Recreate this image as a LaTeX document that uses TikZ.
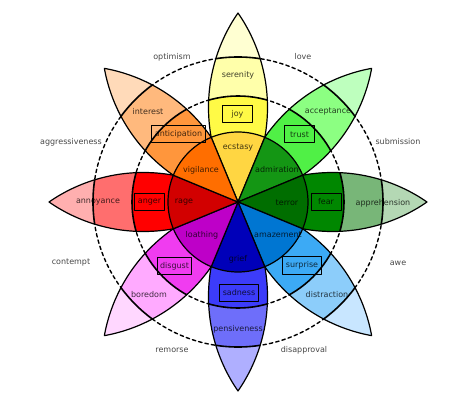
\documentclass[tikz,border=0pt]{standalone}
\usepackage{fontspec}
\setmainfont{DejaVu Sans}

% four shades per petal: A = inner sector, B = basic, C = mild, D = tip
\definecolor{joyA}{RGB}{255,214,66}   \definecolor{joyB}{RGB}{255,250,70}
\definecolor{joyC}{RGB}{255,255,170}  \definecolor{joyD}{RGB}{255,255,210}
\definecolor{trustA}{RGB}{20,150,20}  \definecolor{trustB}{RGB}{80,240,70}
\definecolor{trustC}{RGB}{140,255,130} \definecolor{trustD}{RGB}{190,255,190}
\definecolor{fearA}{RGB}{0,110,0}     \definecolor{fearB}{RGB}{0,135,0}
\definecolor{fearC}{RGB}{120,182,120} \definecolor{fearD}{RGB}{180,216,180}
\definecolor{surpA}{RGB}{0,118,210}   \definecolor{surpB}{RGB}{60,170,245}
\definecolor{surpC}{RGB}{140,205,250} \definecolor{surpD}{RGB}{200,230,255}
\definecolor{sadA}{RGB}{0,0,185}      \definecolor{sadB}{RGB}{60,60,250}
\definecolor{sadC}{RGB}{110,110,250}  \definecolor{sadD}{RGB}{175,175,255}
\definecolor{disgA}{RGB}{190,0,200}   \definecolor{disgB}{RGB}{240,60,240}
\definecolor{disgC}{RGB}{255,170,255} \definecolor{disgD}{RGB}{255,215,255}
\definecolor{angA}{RGB}{210,0,0}      \definecolor{angB}{RGB}{255,0,0}
\definecolor{angC}{RGB}{255,110,110}  \definecolor{angD}{RGB}{255,175,175}
\definecolor{antA}{RGB}{255,110,0}    \definecolor{antB}{RGB}{255,150,60}
\definecolor{antC}{RGB}{255,185,125}  \definecolor{antD}{RGB}{255,218,185}

\tikzset{
  petal/.style={draw=black, line width=1.2pt},
  ring/.style={black, line width=1.4pt, dash pattern=on 3.5pt off 3pt},
  feel/.style={text=black, text opacity=0.75},
  basic/.style={feel, draw=black, line width=1pt, inner xsep=3pt, minimum width=30pt, minimum height=17pt},
  dyad/.style={text=black!72}
}

\begin{document}
\begin{tikzpicture}[x=1pt, y=1pt, font=\fontsize{8}{9.6}\selectfont, line join=round, line cap=round]
  \useasboundingbox (-238,-213) rectangle (236,202);
  \draw[ring] (0,0) circle[radius=106] (0,0) circle[radius=145];
  % petals
  \foreach \ang/\nm in {90/joy, 45/trust, 0/fear, -45/surp, -90/sad, -135/disg, 180/ang, 135/ant}{
    \begin{scope}[rotate=\ang]
      \clip (0,0) arc[start angle=124.68, end angle=55.32, radius=166.1]
        arc[start angle=-55.32, end angle=-124.68, radius=166.1] -- cycle;
      \fill[\nm D] (0,0) circle[radius=200];
      \fill[\nm C] (0,0) circle[radius=145];
      \fill[\nm B] (0,0) circle[radius=106];
      \draw[petal, line width=1.6pt] (0,0) circle[radius=145] (0,0) circle[radius=106];
    \end{scope}
    \draw[petal, rotate=\ang] (0,0) arc[start angle=124.68, end angle=55.32, radius=166.1]
      arc[start angle=-55.32, end angle=-124.68, radius=166.1] -- cycle;
  }
  % inner sectors
  \foreach \ang/\nm in {90/joy, 45/trust, 0/fear, -45/surp, -90/sad, -135/disg, 180/ang, 135/ant}
    \filldraw[petal, fill=\nm A] (0,0) -- ({\ang-22.5}:70) arc[start angle={\ang-22.5}, end angle={\ang+22.5}, radius=70] -- cycle;

  % intense
  \node[feel] (ecstasy) at (0,54) {ecstasy};
  \node[feel] (vigilance) at (-37,32) {vigilance};
  \node[feel] (admiration) at (39,32) {admiration};
  \node[feel] (rage) at (-54,0) {rage};
  \node[feel] (terror) at (49,-1) {terror};
  \node[feel] (loathing) at (-36,-33) {loathing};
  \node[feel] (amazement) at (40,-33) {amazement};
  \node[feel] (grief) at (0,-57) {grief};
  % basic
  \node[basic] (joy) at (-0.5,87.5) {joy};
  \node[basic] (trust) at (61.5,67.5) {trust};
  \node[basic] (fear) at (88,0) {fear};
  \node[basic] (surprise) at (64,-63.5) {surprise};
  \node[basic] (sadness) at (1,-90.5) {sadness};
  \node[basic] (disgust) at (-63.5,-64) {disgust};
  \node[basic] (anger) at (-88.5,0) {anger};
  \node[basic] (anticipation) at (-59.5,67.5) {anticipation};
  % mild
  \node[feel] (serenity) at (0,127) {serenity};
  \node[feel] (acceptance) at (90,90) {acceptance};
  \node[feel] (apprehension) at (145,-1) {apprehension};
  \node[feel] (distraction) at (89,-93) {distraction};
  \node[feel] (pensiveness) at (0,-127) {pensiveness};
  \node[feel] (boredom) at (-89,-93) {boredom};
  \node[feel] (annoyance) at (-140,0) {annoyance};
  \node[feel] (interest) at (-90,90) {interest};
  % dyads
  \node[dyad] (optimism) at (-66,145) {optimism};
  \node[dyad] (love) at (65,145) {love};
  \node[dyad] (submission) at (160,60) {submission};
  \node[dyad] (awe) at (160,-61) {awe};
  \node[dyad] (disapproval) at (66,-148) {disapproval};
  \node[dyad] (remorse) at (-66,-148) {remorse};
  \node[dyad] (contempt) at (-167,-61) {contempt};
  \node[dyad] (aggressiveness) at (-167,60) {aggressiveness};
\end{tikzpicture}
\end{document}
